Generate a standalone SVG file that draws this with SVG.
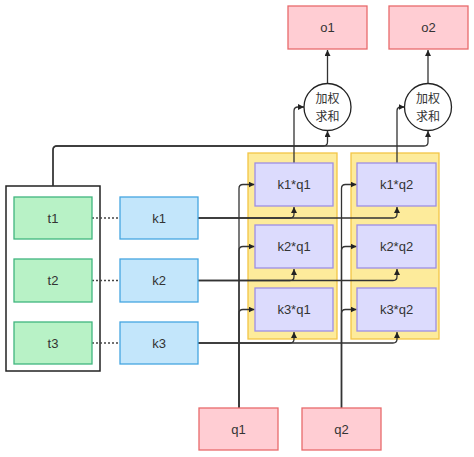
<svg xmlns="http://www.w3.org/2000/svg" width="474" height="457" viewBox="0 0 474 457">
<style>
text{font-family:"Liberation Sans","Noto Sans CJK SC",sans-serif;font-size:13px;fill:#333;text-anchor:middle;dominant-baseline:central}
.t{fill:#b8f2c6;stroke:#40b57f;stroke-width:1.3}
.k{fill:#c3e6fb;stroke:#45a6e0;stroke-width:1.3}
.p{fill:#ffcdd3;stroke:#e86a6c;stroke-width:1.3}
.m{fill:#dcdbfd;stroke:#9d8fe5;stroke-width:1.3}
.y{fill:#fdeb9b;stroke:#f3c545;stroke-width:1.3}
.c{fill:none;stroke:#333;stroke-width:1.3;marker-end:url(#a)}
.n{fill:none;stroke:#333;stroke-width:1.3}
.d{fill:none;stroke:#444;stroke-width:1.3;stroke-dasharray:2 2}
</style>
<defs>
<marker id="a" markerUnits="userSpaceOnUse" markerWidth="7" markerHeight="7" refX="6" refY="3" orient="auto"><path d="M0,0 L6,3 L0,6 z" fill="#222"/></marker>
</defs>
<g id="groupT"><rect x="6" y="186" width="94" height="185" fill="#fff" stroke="#222" stroke-width="1.5"/></g>
<g id="yellow1"><rect class="y" x="248" y="153" width="89" height="186"/></g>
<g id="yellow2"><rect class="y" x="351" y="153" width="88" height="186"/></g>
<g id="connectors">
<path class="c" d="M53,186 V150 Q53,146 57,146 H323 Q327.5,146 327.5,142 V131"/>
<path class="c" d="M53,186 V150 Q53,146 57,146 H424 Q428,146 428,142 V131"/>
<path class="c" d="M294,163 V111 Q294,107 298,107 H304"/>
<path class="c" d="M397,163 V111 Q397,107 401,107 H404.5"/>
<path class="c" d="M327.5,83.5 V50"/>
<path class="c" d="M428,83.5 V50"/>
<path class="c" d="M198,218 H290 Q294,218 294,214 V207"/>
<path class="c" d="M198,218 H393 Q397,218 397,214 V207"/>
<path class="c" d="M198,280.5 H290 Q294,280.5 294,276.5 V269"/>
<path class="c" d="M198,280.5 H393 Q397,280.5 397,276.5 V269"/>
<path class="c" d="M198,343 H290 Q294,343 294,339 V332"/>
<path class="c" d="M198,343 H393 Q397,343 397,339 V332"/>
<path class="c" d="M239,408 V188.5 Q239,184.5 243,184.5 H254.5"/>
<path class="c" d="M239,408 V250.5 Q239,246.5 243,246.5 H254.5"/>
<path class="c" d="M239,408 V313.5 Q239,309.5 243,309.5 H254.5"/>
<path class="c" d="M341.5,408 V188.5 Q341.5,184.5 345.5,184.5 H356.5"/>
<path class="c" d="M341.5,408 V250.5 Q341.5,246.5 345.5,246.5 H356.5"/>
<path class="c" d="M341.5,408 V313.5 Q341.5,309.5 345.5,309.5 H356.5"/>
<path class="d" d="M92,218 H120"/>
<path class="d" d="M92,280.5 H120"/>
<path class="d" d="M92,343 H120"/>
</g>
<g id="t1"><rect class="t" x="14" y="197" width="78" height="42"/><text x="53" y="218">t1</text></g>
<g id="t2"><rect class="t" x="14" y="259" width="78" height="43"/><text x="53" y="280.5">t2</text></g>
<g id="t3"><rect class="t" x="14" y="322" width="78" height="42"/><text x="53" y="343">t3</text></g>
<g id="k1"><rect class="k" x="120" y="197" width="78" height="42"/><text x="159" y="218">k1</text></g>
<g id="k2"><rect class="k" x="120" y="259" width="78" height="43"/><text x="159" y="280.5">k2</text></g>
<g id="k3"><rect class="k" x="120" y="322" width="78" height="42"/><text x="159" y="343">k3</text></g>
<g id="k1q1"><rect class="m" x="255" y="163" width="78" height="43"/><text x="294" y="184.5">k1*q1</text></g>
<g id="k2q1"><rect class="m" x="255" y="225" width="78" height="43"/><text x="294" y="246.5">k2*q1</text></g>
<g id="k3q1"><rect class="m" x="255" y="288" width="78" height="43"/><text x="294" y="309.5">k3*q1</text></g>
<g id="k1q2"><rect class="m" x="357" y="163" width="79" height="43"/><text x="396.5" y="184.5">k1*q2</text></g>
<g id="k2q2"><rect class="m" x="357" y="225" width="79" height="43"/><text x="396.5" y="246.5">k2*q2</text></g>
<g id="k3q2"><rect class="m" x="357" y="288" width="79" height="43"/><text x="396.5" y="309.5">k3*q2</text></g>
<g id="q1"><rect class="p" x="199" y="408" width="79" height="42"/><text x="238.5" y="429">q1</text></g>
<g id="q2"><rect class="p" x="302" y="408" width="79" height="42"/><text x="341.5" y="429">q2</text></g>
<g id="o1"><rect class="p" x="288" y="6" width="79" height="43"/><text x="327.5" y="27.5">o1</text></g>
<g id="o2"><rect class="p" x="389" y="6" width="79" height="43"/><text x="428.5" y="27.5">o2</text></g>
<g id="sum1"><circle cx="327.5" cy="107" r="23.5" fill="#fff" stroke="#222" stroke-width="1.3"/><text x="327.5" y="99" style="font-size:12px">加权</text><text x="327.5" y="116.5" style="font-size:12px">求和</text></g>
<g id="sum2"><circle cx="428" cy="107" r="23.5" fill="#fff" stroke="#222" stroke-width="1.3"/><text x="428" y="99" style="font-size:12px">加权</text><text x="428" y="116.5" style="font-size:12px">求和</text></g>
</svg>
